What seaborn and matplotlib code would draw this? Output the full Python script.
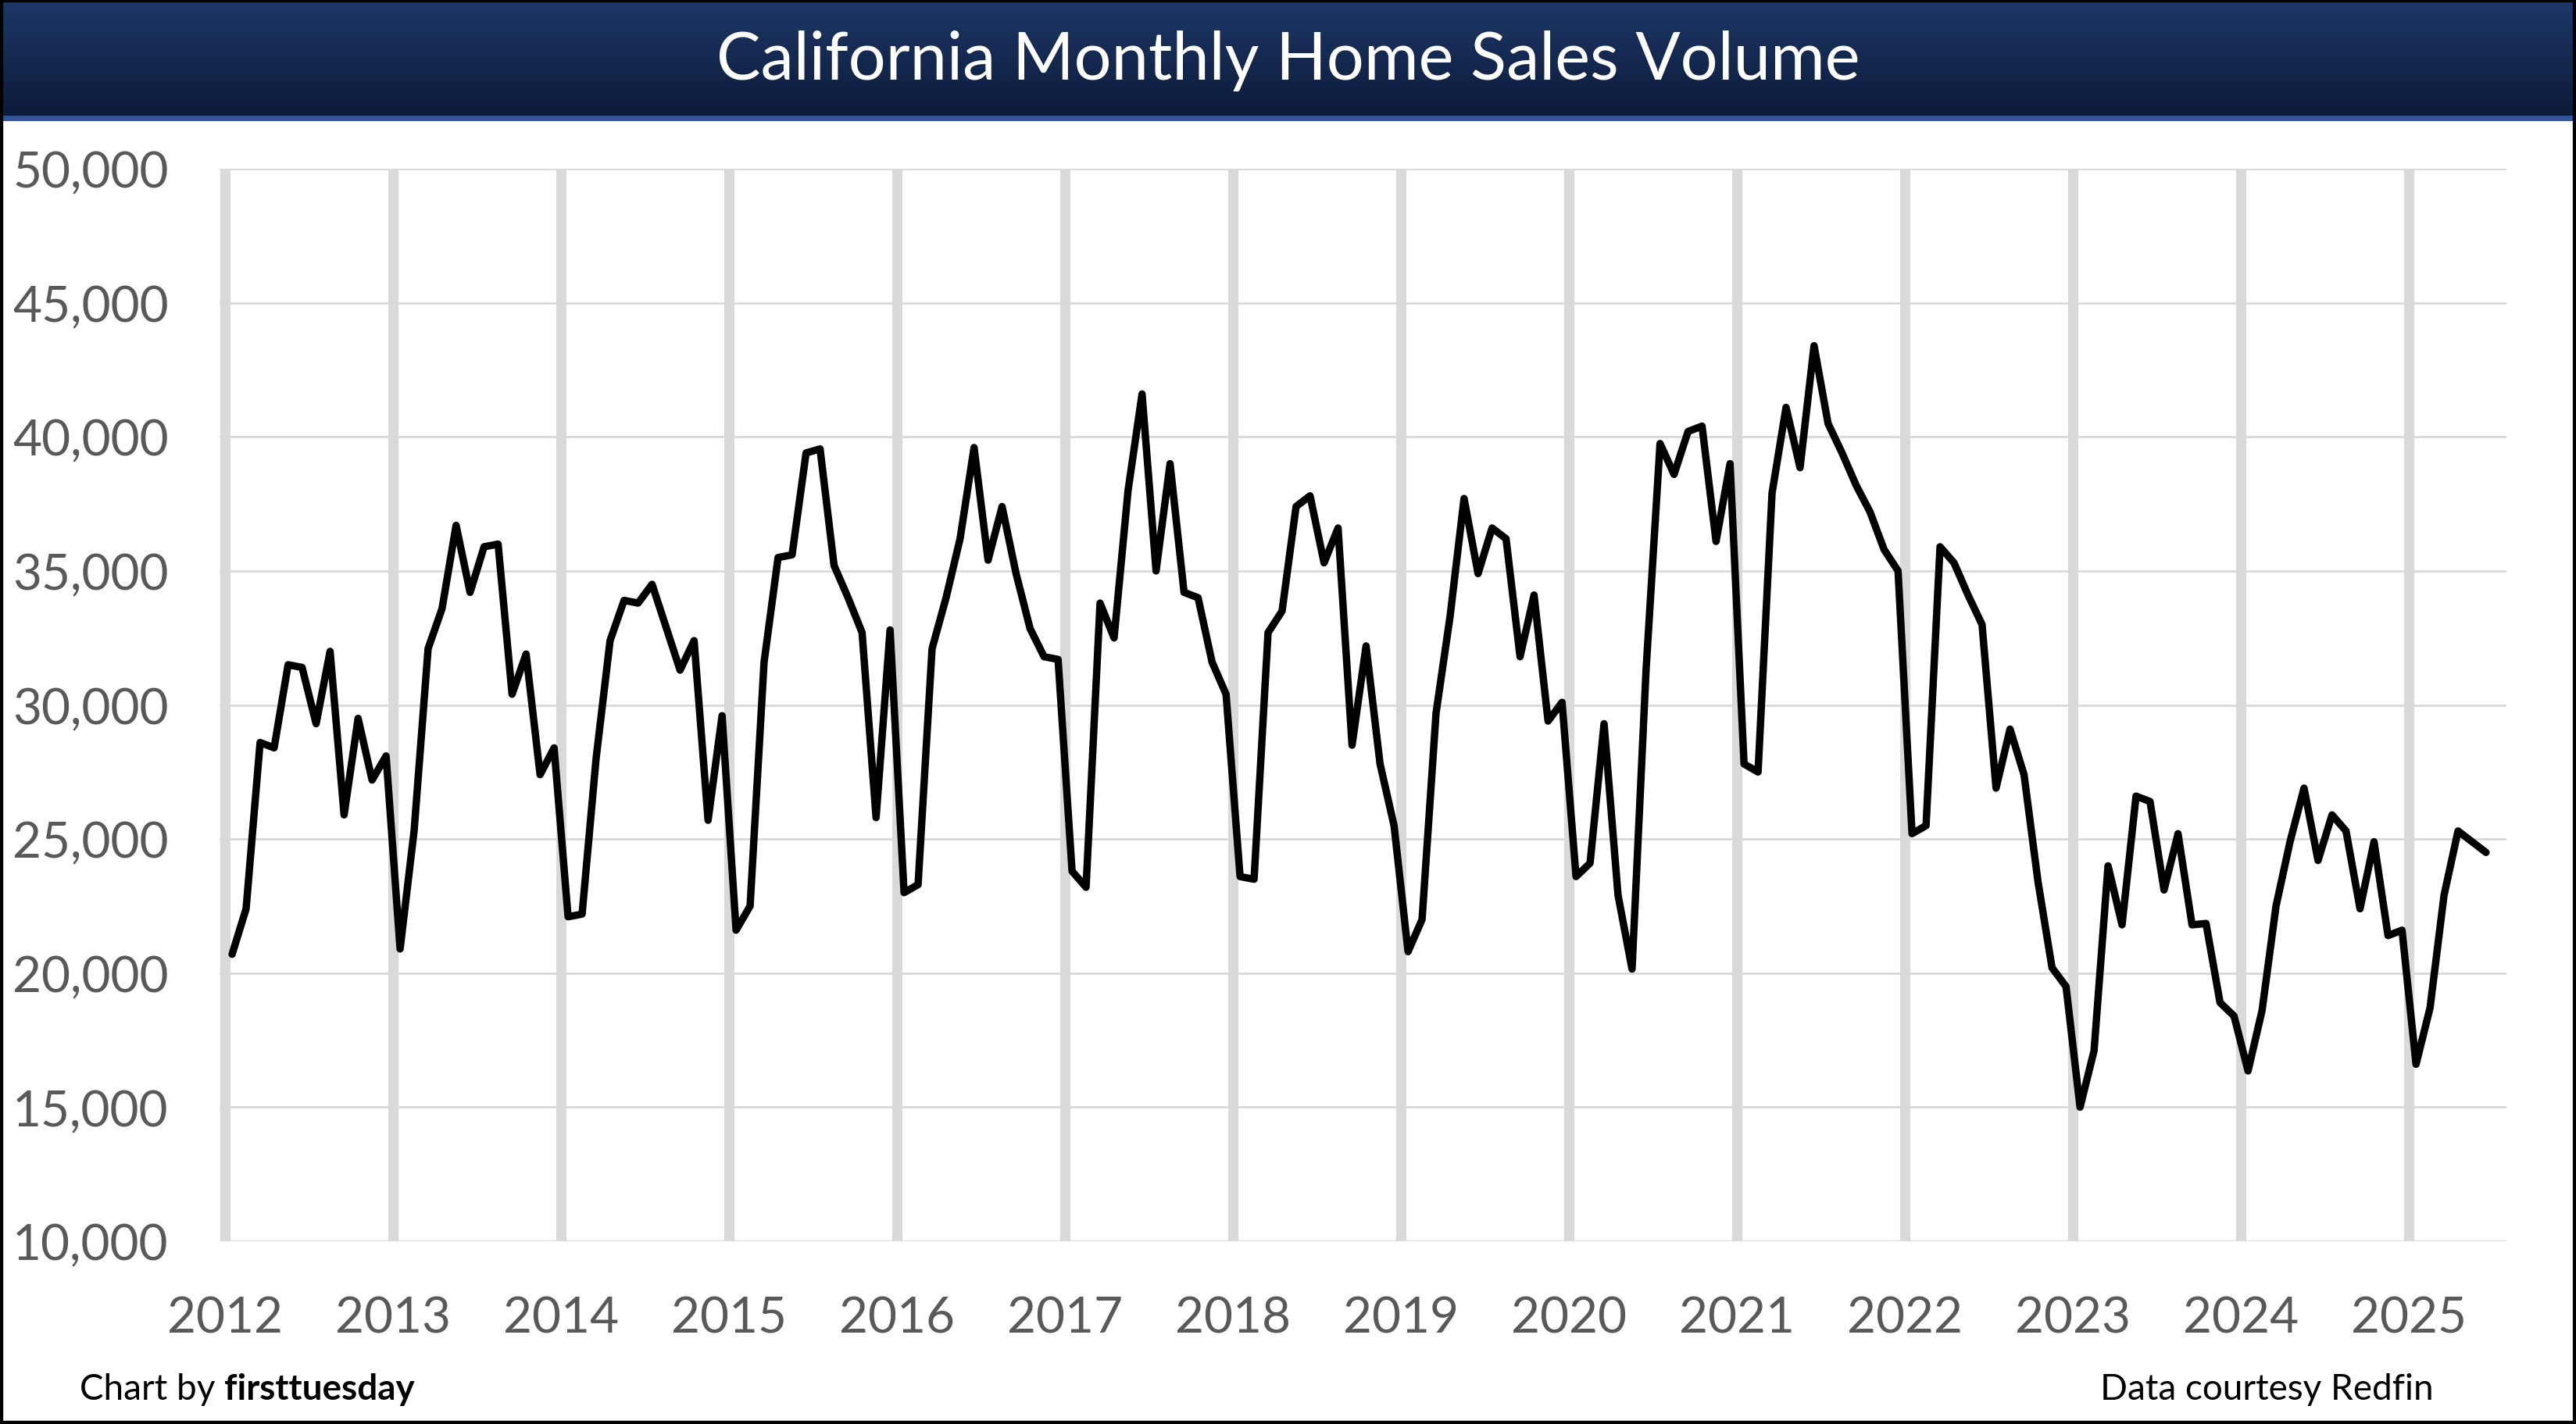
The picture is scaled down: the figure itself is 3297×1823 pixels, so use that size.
import numpy as np
import pandas as pd
import seaborn as sns
import matplotlib
matplotlib.use("Agg")
from matplotlib import pyplot as plt
from matplotlib.ticker import FuncFormatter
from matplotlib.patches import Rectangle
from matplotlib.colors import LinearSegmentedColormap

# monthly home sales volume (Jan 2012 - Jun 2025)
sales_2012 = [20700, 22400, 28600, 28400, 31500, 31400, 29300, 32000, 25900, 29500, 27200, 28100]
sales_2013 = [20900, 25300, 32100, 33600, 36700, 34200, 35900, 36000, 30400, 31900, 27400, 28400]
sales_2014 = [22100, 22200, 28000, 32400, 33900, 33800, 34500, 32900, 31300, 32400, 25700, 29600]
sales_2015 = [21600, 22500, 31600, 35500, 35600, 39400, 39550, 35200, 34000, 32700, 25800, 32800]
sales_2016 = [23000, 23300, 32100, 34000, 36200, 39600, 35400, 37400, 34900, 32850, 31800, 31700]
sales_2017 = [23800, 23200, 33800, 32500, 38000, 41600, 35000, 39000, 34200, 34000, 31600, 30400]
sales_2018 = [23600, 23500, 32700, 33500, 37400, 37800, 35300, 36600, 28500, 32200, 27800, 25500]
sales_2019 = [20800, 22000, 29700, 33300, 37700, 34900, 36600, 36200, 31800, 34100, 29400, 30100]
sales_2020 = [23600, 24100, 29300, 22900, 20150, 31300, 39750, 38600, 40200, 40400, 36100, 39000]
sales_2021 = [27800, 27500, 37900, 41100, 38850, 43400, 40500, 39400, 38200, 37200, 35800, 35000]
sales_2022 = [25200, 25500, 35900, 35300, 34100, 33000, 26900, 29100, 27400, 23400, 20200, 19500]
sales_2023 = [15000, 17100, 24000, 21800, 26600, 26400, 23100, 25200, 21800, 21850, 18900, 18400]
sales_2024 = [16350, 18600, 22500, 24900, 26900, 24200, 25900, 25300, 22400, 24900, 21400, 21600]
sales_2025 = [16600, 18700, 22900, 25300, 24900, 24500]

years = list(range(2012, 2026))
title = "California Monthly Home Sales Volume"

sales = (sales_2012 + sales_2013 + sales_2014 + sales_2015 + sales_2016 + sales_2017 + sales_2018
         + sales_2019 + sales_2020 + sales_2021 + sales_2022 + sales_2023 + sales_2024 + sales_2025)
dates = pd.date_range("2012-01-01", periods=len(sales), freq="MS")
df = pd.DataFrame({"date": dates, "sales": sales})
# points sit mid-month on a decimal-year axis
df["x"] = df["date"].dt.year + (df["date"].dt.month - 0.5) / 12

sns.set_style("white")
plt.rcParams['font.family'] = ['Lato', 'DejaVu Sans']

W, H = 3297, 1824
fig = plt.figure(figsize=(W / 100, H / 100), dpi=100)

ax = fig.add_axes([281 / W, 234 / H, (3208 - 281) / W, (1607 - 234) / H])
sns.lineplot(data=df, x="x", y="sales", ax=ax, color="black", linewidth=6.8)

ax.set_xlim(2011.967, 2025.58)
ax.set_ylim(10000, 50000)
ax.set_xticks(years)
ax.set_xticklabels([str(y) for y in years])
ax.set_yticks(range(10000, 50001, 5000))
ax.yaxis.set_major_formatter(FuncFormatter(lambda v, p: f"{int(v):,}"))
ax.grid(axis="x", color="#D9D9D9", linewidth=9.5)
ax.grid(axis="y", color="#D9D9D9", linewidth=2)
ax.set_axisbelow(True)
sns.despine(ax=ax, left=True, bottom=True)
ax.set_xlabel("")
ax.set_ylabel("")
ax.tick_params(length=0, labelsize=46, colors="#595959")
ax.tick_params(axis="y", pad=47)
ax.tick_params(axis="x", pad=50)

# outer black frame
fig.patches.append(Rectangle((0, 0), 1, 1, transform=fig.transFigure, fill=False,
                             edgecolor="black", linewidth=6, zorder=0))

# title banner with dark navy gradient
bar_h = 152 / H
tax = fig.add_axes([0, 1 - bar_h, 1, bar_h])
grad = np.linspace(0, 1, 256).reshape(-1, 1)
cmap = LinearSegmentedColormap.from_list("navy", ["#1D3868", "#0C1A38"])
tax.imshow(grad, aspect="auto", cmap=cmap, extent=[0, 1, 0, 1])
tax.set_xlim(0, 1)
tax.set_ylim(0, 1)
tax.axis("off")
tax.add_patch(Rectangle((0, 0), 1, 1, transform=tax.transAxes, fill=False,
                        edgecolor="#2F5597", linewidth=5, clip_on=False))
tax.text(0.5, 0.49, title, color="white", fontsize=61, ha="center", va="center",
         transform=tax.transAxes)

# footer notes
base_y = 32 / H
t1 = fig.text(102 / W, base_y, "Chart by ", fontsize=33, color="black", va="baseline", ha="left")
fig.canvas.draw()
bb = t1.get_window_extent()
fig.text(bb.x1 / W, base_y, "firsttuesday", fontsize=33, color="black", fontweight="bold",
         va="baseline", ha="left")
fig.text(3115 / W, base_y, "Data courtesy Redfin", fontsize=33, color="black",
         va="baseline", ha="right")

fig.savefig("out.png", dpi=100)
